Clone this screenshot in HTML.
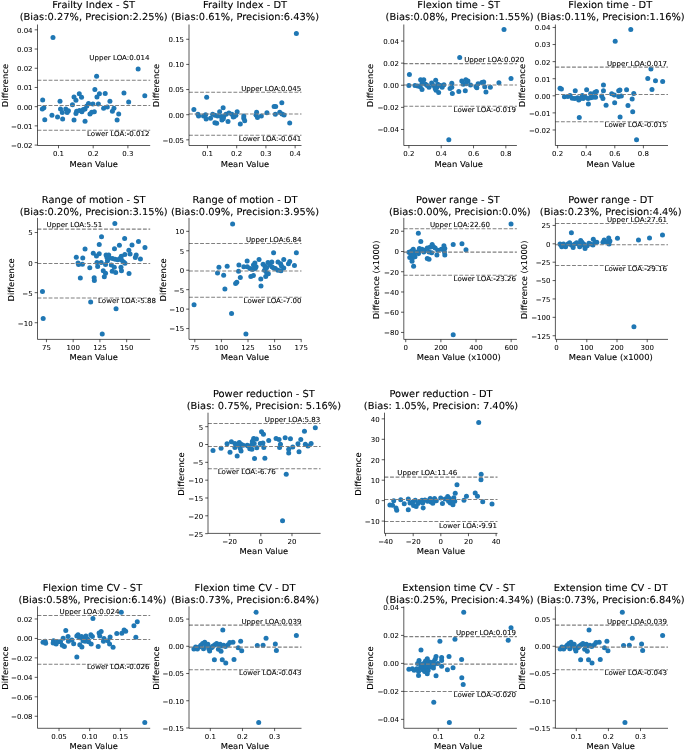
<!DOCTYPE html>
<html lang="en"><head><meta charset="utf-8"><title>Bland-Altman plots</title>
<style>
html,body{margin:0;padding:0;background:#fff}
body{width:685px;height:750px;overflow:hidden}
svg{display:block}
svg text{font-family:"DejaVu Sans","Liberation Sans",sans-serif;fill:#000;text-rendering:geometricPrecision;stroke:#000;stroke-width:0.1px}
.tt{font-size:9.65px;text-anchor:middle}
.lb{font-size:8.2px;text-anchor:middle}
.tk{font-size:6.85px;stroke-width:0.04px}
.an{font-size:6.9px;stroke-width:0.08px}
.sp{stroke:#000;stroke-width:0.65;fill:none}
.hl{stroke:#808080;stroke-width:1.05;stroke-dasharray:3.85 1.7;fill:none}
.pt circle{fill:#1f77b4}
</style></head><body>
<svg width="685" height="750" viewBox="0 0 685 750">
<rect width="685" height="750" fill="#fff"/>
<g id="p1">
<g class="pt"><circle cx="52.99" cy="37.42" r="2.5"/><circle cx="138.13" cy="69.12" r="2.5"/><circle cx="96.61" cy="76.13" r="2.5"/><circle cx="144.79" cy="95.75" r="2.5"/><circle cx="123.94" cy="92.95" r="2.5"/><circle cx="128.67" cy="102.06" r="2.5"/><circle cx="94.86" cy="89.45" r="2.5"/><circle cx="99.42" cy="93.82" r="2.5"/><circle cx="105.2" cy="93.47" r="2.5"/><circle cx="96.96" cy="96.98" r="2.5"/><circle cx="79.27" cy="93.82" r="2.5"/><circle cx="81.55" cy="97.33" r="2.5"/><circle cx="74.01" cy="96.98" r="2.5"/><circle cx="75.94" cy="100.31" r="2.5"/><circle cx="42.66" cy="99.96" r="2.5"/><circle cx="60" cy="101.18" r="2.5"/><circle cx="109.93" cy="101.36" r="2.5"/><circle cx="72.44" cy="104.86" r="2.5"/><circle cx="88.55" cy="103.46" r="2.5"/><circle cx="92.93" cy="103.99" r="2.5"/><circle cx="98.36" cy="103.99" r="2.5"/><circle cx="43.88" cy="107.84" r="2.5"/><circle cx="42.31" cy="108.89" r="2.5"/><circle cx="60.53" cy="109.07" r="2.5"/><circle cx="65.78" cy="109.07" r="2.5"/><circle cx="68.41" cy="110.82" r="2.5"/><circle cx="62.28" cy="112.57" r="2.5"/><circle cx="67.18" cy="112.57" r="2.5"/><circle cx="76.64" cy="111.34" r="2.5"/><circle cx="79.45" cy="110.47" r="2.5"/><circle cx="81.9" cy="111.69" r="2.5"/><circle cx="85.05" cy="109.07" r="2.5"/><circle cx="75.94" cy="113.45" r="2.5"/><circle cx="89.96" cy="113.97" r="2.5"/><circle cx="91.71" cy="112.22" r="2.5"/><circle cx="94.34" cy="111.69" r="2.5"/><circle cx="103.62" cy="108.19" r="2.5"/><circle cx="107.3" cy="106.96" r="2.5"/><circle cx="113.96" cy="108.19" r="2.5"/><circle cx="112.38" cy="111.34" r="2.5"/><circle cx="118.69" cy="113.97" r="2.5"/><circle cx="51.94" cy="115.2" r="2.5"/><circle cx="57.55" cy="117.12" r="2.5"/><circle cx="62.63" cy="118.88" r="2.5"/><circle cx="44.76" cy="119.75" r="2.5"/><circle cx="74.01" cy="120.1" r="2.5"/><circle cx="85.05" cy="121.15" r="2.5"/><circle cx="117.11" cy="120.1" r="2.5"/><circle cx="86.8" cy="106.09" r="2.5"/><circle cx="83.3" cy="109.59" r="2.5"/></g>
<path class="hl" d="M37.5 80.3H150.2"/><path class="hl" d="M37.5 105.4H150.2"/><path class="hl" d="M37.5 130.2H150.2"/>
<path class="sp" d="M37.5 24.5V145.5H150.2M37.5 29.84h-2.8M37.5 49.04h-2.8M37.5 68.25h-2.8M37.5 87.46h-2.8M37.5 106.66h-2.8M37.5 125.87h-2.8M37.5 145.08h-2.8M58.5 145.5v2.8M93.2 145.5v2.8M127.9 145.5v2.8"/>
<text class="tk" text-anchor="end" transform="translate(32.6 32.75) scale(1.025 1)">0.04</text><text class="tk" text-anchor="end" transform="translate(32.6 51.96) scale(1.025 1)">0.03</text><text class="tk" text-anchor="end" transform="translate(32.6 71.17) scale(1.025 1)">0.02</text><text class="tk" text-anchor="end" transform="translate(32.6 90.37) scale(1.025 1)">0.01</text><text class="tk" text-anchor="end" transform="translate(32.6 109.58) scale(1.025 1)">0.00</text><text class="tk" text-anchor="end" transform="translate(32.6 128.79) scale(1.025 1)">−0.01</text><text class="tk" text-anchor="end" transform="translate(32.6 147.99) scale(1.025 1)">−0.02</text>
<text class="tk" text-anchor="middle" transform="translate(58.5 156.37) scale(1.025 1)">0.1</text><text class="tk" text-anchor="middle" transform="translate(93.2 156.37) scale(1.025 1)">0.2</text><text class="tk" text-anchor="middle" transform="translate(127.9 156.37) scale(1.025 1)">0.3</text>
<text class="tt" transform="translate(93.7 8.27) scale(1.025 1)">Frailty Index - ST</text>
<text class="tt" transform="translate(93.7 20.07) scale(1.025 1)">(Bias:0.27%, Precision:2.25%)</text>
<text class="lb" transform="translate(93.7 166.55) scale(1.025 1)">Mean Value</text>
<text class="lb" transform="translate(7.55 85.5) rotate(-90) scale(1.025 1)">Difference</text>
<text class="an" text-anchor="end" transform="translate(149.4 59.98) scale(1.025 1)">Upper LOA:0.014</text>
<text class="an" text-anchor="end" transform="translate(149.4 135.88) scale(1.025 1)">Lower LOA:-0.012</text>
</g>
<g id="p2">
<g class="pt"><circle cx="296.36" cy="33.39" r="2.5"/><circle cx="206.67" cy="97.33" r="2.5"/><circle cx="281.82" cy="102.76" r="2.5"/><circle cx="274.12" cy="106.61" r="2.5"/><circle cx="275.69" cy="106.61" r="2.5"/><circle cx="223.14" cy="107.66" r="2.5"/><circle cx="193.88" cy="109.42" r="2.5"/><circle cx="219.64" cy="111.69" r="2.5"/><circle cx="237.15" cy="111.69" r="2.5"/><circle cx="256.6" cy="112.22" r="2.5"/><circle cx="266.93" cy="112.74" r="2.5"/><circle cx="279.72" cy="112.22" r="2.5"/><circle cx="197.91" cy="114.32" r="2.5"/><circle cx="198.61" cy="116.07" r="2.5"/><circle cx="203.52" cy="116.07" r="2.5"/><circle cx="205.62" cy="114.85" r="2.5"/><circle cx="212.63" cy="114.32" r="2.5"/><circle cx="214.91" cy="115.37" r="2.5"/><circle cx="217.53" cy="116.07" r="2.5"/><circle cx="221.04" cy="116.6" r="2.5"/><circle cx="223.66" cy="116.6" r="2.5"/><circle cx="225.94" cy="114.32" r="2.5"/><circle cx="228.92" cy="113.09" r="2.5"/><circle cx="231.9" cy="114.32" r="2.5"/><circle cx="234.18" cy="116.6" r="2.5"/><circle cx="235.93" cy="115.37" r="2.5"/><circle cx="243.81" cy="116.07" r="2.5"/><circle cx="256.07" cy="115.37" r="2.5"/><circle cx="257.47" cy="117.47" r="2.5"/><circle cx="261.33" cy="116.07" r="2.5"/><circle cx="275.34" cy="114.32" r="2.5"/><circle cx="282" cy="113.97" r="2.5"/><circle cx="284.1" cy="115.02" r="2.5"/><circle cx="206.15" cy="118.88" r="2.5"/><circle cx="210.53" cy="118.35" r="2.5"/><circle cx="221.91" cy="120.1" r="2.5"/><circle cx="228.04" cy="121.5" r="2.5"/><circle cx="244.69" cy="120.63" r="2.5"/><circle cx="243.81" cy="118.35" r="2.5"/><circle cx="214.91" cy="122.73" r="2.5"/><circle cx="216.66" cy="123.26" r="2.5"/><circle cx="240.31" cy="123.96" r="2.5"/><circle cx="289.71" cy="123.08" r="2.5"/><circle cx="223.31" cy="118.7" r="2.5"/><circle cx="233.3" cy="117.12" r="2.5"/></g>
<path class="hl" d="M189 92.2H301.5"/><path class="hl" d="M189 114H301.5"/><path class="hl" d="M189 135.3H301.5"/>
<path class="sp" d="M189 24.5V145.5H301.5M189 39.28h-2.8M189 64.42h-2.8M189 89.56h-2.8M189 114.7h-2.8M189 139.84h-2.8M207.47 145.5v2.8M236.69 145.5v2.8M265.91 145.5v2.8M295.13 145.5v2.8"/>
<text class="tk" text-anchor="end" transform="translate(184.1 42.2) scale(1.025 1)">0.15</text><text class="tk" text-anchor="end" transform="translate(184.1 67.34) scale(1.025 1)">0.10</text><text class="tk" text-anchor="end" transform="translate(184.1 92.48) scale(1.025 1)">0.05</text><text class="tk" text-anchor="end" transform="translate(184.1 117.62) scale(1.025 1)">0.00</text><text class="tk" text-anchor="end" transform="translate(184.1 142.76) scale(1.025 1)">−0.05</text>
<text class="tk" text-anchor="middle" transform="translate(207.47 156.37) scale(1.025 1)">0.1</text><text class="tk" text-anchor="middle" transform="translate(236.69 156.37) scale(1.025 1)">0.2</text><text class="tk" text-anchor="middle" transform="translate(265.91 156.37) scale(1.025 1)">0.3</text><text class="tk" text-anchor="middle" transform="translate(295.13 156.37) scale(1.025 1)">0.4</text>
<text class="tt" transform="translate(245 8.27) scale(1.025 1)">Frailty Index - DT</text>
<text class="tt" transform="translate(245 20.07) scale(1.025 1)">(Bias:0.61%, Precision:6.43%)</text>
<text class="lb" transform="translate(245 166.55) scale(1.025 1)">Mean Value</text>
<text class="lb" transform="translate(158.55 85.5) rotate(-90) scale(1.025 1)">Difference</text>
<text class="an" text-anchor="end" transform="translate(301.2 91.18) scale(1.025 1)">Upper LOA:0.045</text>
<text class="an" text-anchor="end" transform="translate(301.2 140.78) scale(1.025 1)">Lower LOA:-0.041</text>
</g>
<g id="p3">
<g class="pt"><circle cx="504.01" cy="29.53" r="2.5"/><circle cx="459.69" cy="57.39" r="2.5"/><circle cx="409.41" cy="74.38" r="2.5"/><circle cx="511.01" cy="78.58" r="2.5"/><circle cx="448.82" cy="139.72" r="2.5"/><circle cx="408.88" cy="85.42" r="2.5"/><circle cx="415.01" cy="85.42" r="2.5"/><circle cx="417.64" cy="85.94" r="2.5"/><circle cx="420.62" cy="79.81" r="2.5"/><circle cx="423.77" cy="79.81" r="2.5"/><circle cx="422.02" cy="83.31" r="2.5"/><circle cx="425.53" cy="84.19" r="2.5"/><circle cx="420.27" cy="86.82" r="2.5"/><circle cx="422.02" cy="89.45" r="2.5"/><circle cx="427.28" cy="85.42" r="2.5"/><circle cx="429.03" cy="87.17" r="2.5"/><circle cx="431.66" cy="82.96" r="2.5"/><circle cx="435.69" cy="80.34" r="2.5"/><circle cx="433.41" cy="85.42" r="2.5"/><circle cx="435.16" cy="88.57" r="2.5"/><circle cx="436.91" cy="87.17" r="2.5"/><circle cx="436.04" cy="90.32" r="2.5"/><circle cx="438.66" cy="92.42" r="2.5"/><circle cx="440.42" cy="85.42" r="2.5"/><circle cx="442.17" cy="87.17" r="2.5"/><circle cx="443.92" cy="84.72" r="2.5"/><circle cx="451.8" cy="83.31" r="2.5"/><circle cx="450.05" cy="88.57" r="2.5"/><circle cx="451.8" cy="87.17" r="2.5"/><circle cx="452.33" cy="93.47" r="2.5"/><circle cx="458.81" cy="91.55" r="2.5"/><circle cx="465.29" cy="90.85" r="2.5"/><circle cx="461.79" cy="81.04" r="2.5"/><circle cx="465.82" cy="79.81" r="2.5"/><circle cx="467.92" cy="81.04" r="2.5"/><circle cx="463.19" cy="84.19" r="2.5"/><circle cx="466.17" cy="83.84" r="2.5"/><circle cx="470.55" cy="85.07" r="2.5"/><circle cx="475.98" cy="86.47" r="2.5"/><circle cx="476.85" cy="87.69" r="2.5"/><circle cx="478.08" cy="83.84" r="2.5"/><circle cx="481.93" cy="82.44" r="2.5"/><circle cx="483.69" cy="81.91" r="2.5"/><circle cx="484.74" cy="86.82" r="2.5"/><circle cx="485.96" cy="92.07" r="2.5"/><circle cx="490.34" cy="87.17" r="2.5"/><circle cx="498.93" cy="82.79" r="2.5"/><circle cx="437.79" cy="84.19" r="2.5"/></g>
<path class="hl" d="M403.8 63.6H516.9"/><path class="hl" d="M403.8 84.9H516.9"/><path class="hl" d="M403.8 106.3H516.9"/>
<path class="sp" d="M403.8 24.5V145.5H516.9M403.8 41.04h-2.8M403.8 63.15h-2.8M403.8 85.26h-2.8M403.8 107.37h-2.8M403.8 129.48h-2.8M408.91 145.5v2.8M441.22 145.5v2.8M473.53 145.5v2.8M505.84 145.5v2.8"/>
<text class="tk" text-anchor="end" transform="translate(398.9 43.96) scale(1.025 1)">0.04</text><text class="tk" text-anchor="end" transform="translate(398.9 66.07) scale(1.025 1)">0.02</text><text class="tk" text-anchor="end" transform="translate(398.9 88.18) scale(1.025 1)">0.00</text><text class="tk" text-anchor="end" transform="translate(398.9 110.29) scale(1.025 1)">−0.02</text><text class="tk" text-anchor="end" transform="translate(398.9 132.4) scale(1.025 1)">−0.04</text>
<text class="tk" text-anchor="middle" transform="translate(408.91 156.37) scale(1.025 1)">0.2</text><text class="tk" text-anchor="middle" transform="translate(441.22 156.37) scale(1.025 1)">0.4</text><text class="tk" text-anchor="middle" transform="translate(473.53 156.37) scale(1.025 1)">0.6</text><text class="tk" text-anchor="middle" transform="translate(505.84 156.37) scale(1.025 1)">0.8</text>
<text class="tt" transform="translate(458.7 8.27) scale(1.025 1)">Flexion time - ST</text>
<text class="tt" transform="translate(459.6 20.07) scale(1.025 1)">(Bias:0.08%, Precision:1.55%)</text>
<text class="lb" transform="translate(458.7 166.55) scale(1.025 1)">Mean Value</text>
<text class="lb" transform="translate(373.35 85.5) rotate(-90) scale(1.025 1)">Difference</text>
<text class="an" text-anchor="end" transform="translate(524.2 62.48) scale(1.025 1)">Upper LOA:0.020</text>
<text class="an" text-anchor="end" transform="translate(516 112.18) scale(1.025 1)">Lower LOA:-0.019</text>
</g>
<g id="p4">
<g class="pt"><circle cx="630.78" cy="29.53" r="2.5"/><circle cx="615.19" cy="41.27" r="2.5"/><circle cx="650.93" cy="69.12" r="2.5"/><circle cx="647.77" cy="78.41" r="2.5"/><circle cx="655.48" cy="80.69" r="2.5"/><circle cx="662.66" cy="81.39" r="2.5"/><circle cx="651.98" cy="89.45" r="2.5"/><circle cx="603.45" cy="85.07" r="2.5"/><circle cx="603.45" cy="90.85" r="2.5"/><circle cx="560.01" cy="88.22" r="2.5"/><circle cx="561.41" cy="89.09" r="2.5"/><circle cx="575.25" cy="90.85" r="2.5"/><circle cx="586.64" cy="89.8" r="2.5"/><circle cx="596.45" cy="91.55" r="2.5"/><circle cx="594.69" cy="92.6" r="2.5"/><circle cx="590.66" cy="93.82" r="2.5"/><circle cx="618.69" cy="90.85" r="2.5"/><circle cx="619.92" cy="89.97" r="2.5"/><circle cx="626.58" cy="89.8" r="2.5"/><circle cx="633.76" cy="93.47" r="2.5"/><circle cx="611.69" cy="93.82" r="2.5"/><circle cx="614.31" cy="95.05" r="2.5"/><circle cx="564.39" cy="96.8" r="2.5"/><circle cx="567.89" cy="96.45" r="2.5"/><circle cx="569.99" cy="95.58" r="2.5"/><circle cx="572.27" cy="98.2" r="2.5"/><circle cx="574.9" cy="98.55" r="2.5"/><circle cx="577.53" cy="97.68" r="2.5"/><circle cx="578.75" cy="99.96" r="2.5"/><circle cx="580.15" cy="98.55" r="2.5"/><circle cx="582.26" cy="95.58" r="2.5"/><circle cx="583.13" cy="98.55" r="2.5"/><circle cx="585.41" cy="97.33" r="2.5"/><circle cx="588.04" cy="98.55" r="2.5"/><circle cx="590.66" cy="97.68" r="2.5"/><circle cx="592.94" cy="97.33" r="2.5"/><circle cx="595.57" cy="97.33" r="2.5"/><circle cx="601.7" cy="95.93" r="2.5"/><circle cx="602.93" cy="98.55" r="2.5"/><circle cx="618.69" cy="96.45" r="2.5"/><circle cx="621.32" cy="96.1" r="2.5"/><circle cx="632.18" cy="99.08" r="2.5"/><circle cx="588.39" cy="103.99" r="2.5"/><circle cx="606.08" cy="105.21" r="2.5"/><circle cx="614.66" cy="102.76" r="2.5"/><circle cx="627.98" cy="105.56" r="2.5"/><circle cx="632.71" cy="111.69" r="2.5"/><circle cx="579.28" cy="117.47" r="2.5"/><circle cx="620.09" cy="117.12" r="2.5"/><circle cx="636.56" cy="139.72" r="2.5"/></g>
<path class="hl" d="M555.4 67.1H668"/><path class="hl" d="M555.4 94.5H668"/><path class="hl" d="M555.4 121.8H668"/>
<path class="sp" d="M555.4 24.5V145.5H668M555.4 27.46h-2.8M555.4 44.54h-2.8M555.4 61.63h-2.8M555.4 78.71h-2.8M555.4 95.8h-2.8M555.4 112.89h-2.8M555.4 129.97h-2.8M557.6 145.5v2.8M586.2 145.5v2.8M614.8 145.5v2.8M643.4 145.5v2.8"/>
<text class="tk" text-anchor="end" transform="translate(550.5 30.37) scale(1.025 1)">0.04</text><text class="tk" text-anchor="end" transform="translate(550.5 47.46) scale(1.025 1)">0.03</text><text class="tk" text-anchor="end" transform="translate(550.5 64.54) scale(1.025 1)">0.02</text><text class="tk" text-anchor="end" transform="translate(550.5 81.63) scale(1.025 1)">0.01</text><text class="tk" text-anchor="end" transform="translate(550.5 98.72) scale(1.025 1)">0.00</text><text class="tk" text-anchor="end" transform="translate(550.5 115.8) scale(1.025 1)">−0.01</text><text class="tk" text-anchor="end" transform="translate(550.5 132.89) scale(1.025 1)">−0.02</text>
<text class="tk" text-anchor="middle" transform="translate(557.6 156.37) scale(1.025 1)">0.2</text><text class="tk" text-anchor="middle" transform="translate(586.2 156.37) scale(1.025 1)">0.4</text><text class="tk" text-anchor="middle" transform="translate(614.8 156.37) scale(1.025 1)">0.6</text><text class="tk" text-anchor="middle" transform="translate(643.4 156.37) scale(1.025 1)">0.8</text>
<text class="tt" transform="translate(610.2 8.27) scale(1.025 1)">Flexion time - DT</text>
<text class="tt" transform="translate(610.7 20.07) scale(1.025 1)">(Bias:0.11%, Precision:1.16%)</text>
<text class="lb" transform="translate(610.7 166.55) scale(1.025 1)">Mean Value</text>
<text class="lb" transform="translate(524.65 85.5) rotate(-90) scale(1.025 1)">Difference</text>
<text class="an" text-anchor="end" transform="translate(667 65.88) scale(1.025 1)">Upper LOA:0.017</text>
<text class="an" text-anchor="end" transform="translate(667 127.08) scale(1.025 1)">Lower LOA:-0.015</text>
</g>
<g id="p5">
<g class="pt"><circle cx="114.83" cy="223.53" r="2.5"/><circle cx="101.52" cy="236.67" r="2.5"/><circle cx="124.64" cy="238.42" r="2.5"/><circle cx="138.48" cy="241.58" r="2.5"/><circle cx="132" cy="245.08" r="2.5"/><circle cx="144.96" cy="247.53" r="2.5"/><circle cx="99.24" cy="244.55" r="2.5"/><circle cx="119.39" cy="245.26" r="2.5"/><circle cx="114.48" cy="248.76" r="2.5"/><circle cx="128.85" cy="250.16" r="2.5"/><circle cx="85.05" cy="249.11" r="2.5"/><circle cx="93.28" cy="253.31" r="2.5"/><circle cx="99.24" cy="253.84" r="2.5"/><circle cx="96.44" cy="255.94" r="2.5"/><circle cx="130.07" cy="254.01" r="2.5"/><circle cx="136.2" cy="254.89" r="2.5"/><circle cx="135.33" cy="257.52" r="2.5"/><circle cx="140.41" cy="259.09" r="2.5"/><circle cx="124.82" cy="254.54" r="2.5"/><circle cx="121.31" cy="256.29" r="2.5"/><circle cx="76.29" cy="257.17" r="2.5"/><circle cx="82.77" cy="258.04" r="2.5"/><circle cx="106.07" cy="255.07" r="2.5"/><circle cx="108.7" cy="254.89" r="2.5"/><circle cx="106.95" cy="257.52" r="2.5"/><circle cx="109.58" cy="258.04" r="2.5"/><circle cx="112.55" cy="258.57" r="2.5"/><circle cx="115.18" cy="259.27" r="2.5"/><circle cx="117.81" cy="259.8" r="2.5"/><circle cx="120.09" cy="258.57" r="2.5"/><circle cx="121.84" cy="260.32" r="2.5"/><circle cx="123.59" cy="261.9" r="2.5"/><circle cx="124.99" cy="263.3" r="2.5"/><circle cx="107.47" cy="260.67" r="2.5"/><circle cx="78.04" cy="262.95" r="2.5"/><circle cx="82.42" cy="264.18" r="2.5"/><circle cx="78.57" cy="264.53" r="2.5"/><circle cx="96.96" cy="262.42" r="2.5"/><circle cx="101.17" cy="262.42" r="2.5"/><circle cx="97.66" cy="266.45" r="2.5"/><circle cx="105.55" cy="264.53" r="2.5"/><circle cx="111.33" cy="265.05" r="2.5"/><circle cx="114.31" cy="267.15" r="2.5"/><circle cx="120.96" cy="267.15" r="2.5"/><circle cx="89.78" cy="267.68" r="2.5"/><circle cx="121.49" cy="270.66" r="2.5"/><circle cx="103.27" cy="270.83" r="2.5"/><circle cx="105.55" cy="273.28" r="2.5"/><circle cx="104.32" cy="276.79" r="2.5"/><circle cx="112.2" cy="271.18" r="2.5"/><circle cx="115.71" cy="272.41" r="2.5"/><circle cx="129.02" cy="273.46" r="2.5"/><circle cx="80.32" cy="278.01" r="2.5"/><circle cx="94.16" cy="277.84" r="2.5"/><circle cx="94.34" cy="280.47" r="2.5"/><circle cx="42.48" cy="291.5" r="2.5"/><circle cx="90.66" cy="302.01" r="2.5"/><circle cx="116.06" cy="308.85" r="2.5"/><circle cx="43.18" cy="318.48" r="2.5"/><circle cx="102.22" cy="333.9" r="2.5"/></g>
<path class="hl" d="M37.5 229.1H150.2"/><path class="hl" d="M37.5 263.5H150.2"/><path class="hl" d="M37.5 298H150.2"/>
<path class="sp" d="M37.5 217.9V339.4H150.2M37.5 232.52h-2.8M37.5 262.59h-2.8M37.5 292.66h-2.8M37.5 322.73h-2.8M46.44 339.4v2.8M73.18 339.4v2.8M99.92 339.4v2.8M126.66 339.4v2.8"/>
<text class="tk" text-anchor="end" transform="translate(32.6 235.44) scale(1.025 1)">5</text><text class="tk" text-anchor="end" transform="translate(32.6 265.51) scale(1.025 1)">0</text><text class="tk" text-anchor="end" transform="translate(32.6 295.58) scale(1.025 1)">−5</text><text class="tk" text-anchor="end" transform="translate(32.6 325.65) scale(1.025 1)">−10</text>
<text class="tk" text-anchor="middle" transform="translate(46.44 350.27) scale(1.025 1)">75</text><text class="tk" text-anchor="middle" transform="translate(73.18 350.27) scale(1.025 1)">100</text><text class="tk" text-anchor="middle" transform="translate(99.92 350.27) scale(1.025 1)">125</text><text class="tk" text-anchor="middle" transform="translate(126.66 350.27) scale(1.025 1)">150</text>
<text class="tt" transform="translate(93.7 202.72) scale(1.025 1)">Range of motion - ST</text>
<text class="tt" transform="translate(93.7 214.52) scale(1.025 1)">(Bias:0.20%, Precision:3.15%)</text>
<text class="lb" transform="translate(93.7 360.45) scale(1.025 1)">Mean Value</text>
<text class="lb" transform="translate(14.35 279.95) rotate(-90) scale(1.025 1)">Difference</text>
<text class="an" text-anchor="start" transform="translate(46.6 227.48) scale(1.025 1)">Upper LOA:5.51</text>
<text class="an" text-anchor="start" transform="translate(98 303.28) scale(1.025 1)">Lower LOA:-5.88</text>
</g>
<g id="p6">
<g class="pt"><circle cx="232.6" cy="223.88" r="2.5"/><circle cx="273.59" cy="252.79" r="2.5"/><circle cx="296.36" cy="252.79" r="2.5"/><circle cx="283.75" cy="259.45" r="2.5"/><circle cx="259.05" cy="259.45" r="2.5"/><circle cx="247.14" cy="261.02" r="2.5"/><circle cx="289.71" cy="261.55" r="2.5"/><circle cx="288.48" cy="263.82" r="2.5"/><circle cx="294.44" cy="265.58" r="2.5"/><circle cx="277.97" cy="262.07" r="2.5"/><circle cx="280.6" cy="263.82" r="2.5"/><circle cx="271.84" cy="262.07" r="2.5"/><circle cx="267.99" cy="262.42" r="2.5"/><circle cx="254.85" cy="262.95" r="2.5"/><circle cx="253.45" cy="265.05" r="2.5"/><circle cx="256.07" cy="266.8" r="2.5"/><circle cx="238.91" cy="265.05" r="2.5"/><circle cx="227.17" cy="266.28" r="2.5"/><circle cx="218.93" cy="267.15" r="2.5"/><circle cx="243.81" cy="266.8" r="2.5"/><circle cx="247.31" cy="266.8" r="2.5"/><circle cx="249.94" cy="268.55" r="2.5"/><circle cx="252.57" cy="269.43" r="2.5"/><circle cx="255.2" cy="268.55" r="2.5"/><circle cx="263.08" cy="264.18" r="2.5"/><circle cx="264.83" cy="265.93" r="2.5"/><circle cx="266.58" cy="267.68" r="2.5"/><circle cx="269.74" cy="265.05" r="2.5"/><circle cx="271.84" cy="266.8" r="2.5"/><circle cx="273.59" cy="268.03" r="2.5"/><circle cx="275.34" cy="268.55" r="2.5"/><circle cx="281.47" cy="265.93" r="2.5"/><circle cx="283.75" cy="268.03" r="2.5"/><circle cx="277.97" cy="270.31" r="2.5"/><circle cx="280.95" cy="270.66" r="2.5"/><circle cx="238.55" cy="271.18" r="2.5"/><circle cx="217.53" cy="273.11" r="2.5"/><circle cx="223.66" cy="275.21" r="2.5"/><circle cx="264.48" cy="270.31" r="2.5"/><circle cx="266.58" cy="272.41" r="2.5"/><circle cx="268.34" cy="273.81" r="2.5"/><circle cx="265.71" cy="276.44" r="2.5"/><circle cx="250.82" cy="276.44" r="2.5"/><circle cx="253.45" cy="275.56" r="2.5"/><circle cx="240.31" cy="277.49" r="2.5"/><circle cx="260.8" cy="278.89" r="2.5"/><circle cx="236.8" cy="282.22" r="2.5"/><circle cx="235.58" cy="283.45" r="2.5"/><circle cx="260.98" cy="286.07" r="2.5"/><circle cx="224.89" cy="288.88" r="2.5"/><circle cx="194.06" cy="304.82" r="2.5"/><circle cx="231.55" cy="313.4" r="2.5"/><circle cx="245.91" cy="333.9" r="2.5"/></g>
<path class="hl" d="M189 243.5H301.5"/><path class="hl" d="M189 270.9H301.5"/><path class="hl" d="M189 297.2H301.5"/>
<path class="sp" d="M189 217.9V339.4H301.5M189 231.33h-2.8M189 250.78h-2.8M189 270.23h-2.8M189 289.67h-2.8M189 309.12h-2.8M189 328.57h-2.8M194.8 339.4v2.8M221.4 339.4v2.8M248 339.4v2.8M274.6 339.4v2.8M301.2 339.4v2.8"/>
<text class="tk" text-anchor="end" transform="translate(184.1 234.24) scale(1.025 1)">10</text><text class="tk" text-anchor="end" transform="translate(184.1 253.69) scale(1.025 1)">5</text><text class="tk" text-anchor="end" transform="translate(184.1 273.14) scale(1.025 1)">0</text><text class="tk" text-anchor="end" transform="translate(184.1 292.59) scale(1.025 1)">−5</text><text class="tk" text-anchor="end" transform="translate(184.1 312.04) scale(1.025 1)">−10</text><text class="tk" text-anchor="end" transform="translate(184.1 331.49) scale(1.025 1)">−15</text>
<text class="tk" text-anchor="middle" transform="translate(194.8 350.27) scale(1.025 1)">75</text><text class="tk" text-anchor="middle" transform="translate(221.4 350.27) scale(1.025 1)">100</text><text class="tk" text-anchor="middle" transform="translate(248 350.27) scale(1.025 1)">125</text><text class="tk" text-anchor="middle" transform="translate(274.6 350.27) scale(1.025 1)">150</text><text class="tk" text-anchor="middle" transform="translate(301.2 350.27) scale(1.025 1)">175</text>
<text class="tt" transform="translate(245 202.72) scale(1.025 1)">Range of motion - DT</text>
<text class="tt" transform="translate(245 214.52) scale(1.025 1)">(Bias:0.09%, Precision:3.95%)</text>
<text class="lb" transform="translate(245 360.45) scale(1.025 1)">Mean Value</text>
<text class="lb" transform="translate(165.65 279.95) rotate(-90) scale(1.025 1)">Difference</text>
<text class="an" text-anchor="end" transform="translate(301.5 241.68) scale(1.025 1)">Upper LOA:6.84</text>
<text class="an" text-anchor="end" transform="translate(301.5 302.98) scale(1.025 1)">Lower LOA:-7.00</text>
</g>
<g id="p7">
<g class="pt"><circle cx="511.01" cy="223.88" r="2.5"/><circle cx="418.34" cy="233.17" r="2.5"/><circle cx="420.8" cy="241.4" r="2.5"/><circle cx="453.2" cy="244.55" r="2.5"/><circle cx="461.96" cy="243.68" r="2.5"/><circle cx="465.99" cy="249.64" r="2.5"/><circle cx="453.2" cy="334.77" r="2.5"/><circle cx="413.61" cy="266.28" r="2.5"/><circle cx="412.04" cy="261.2" r="2.5"/><circle cx="409.76" cy="257.52" r="2.5"/><circle cx="412.39" cy="258.04" r="2.5"/><circle cx="415.01" cy="256.64" r="2.5"/><circle cx="408.88" cy="252.26" r="2.5"/><circle cx="411.51" cy="251.04" r="2.5"/><circle cx="413.26" cy="249.28" r="2.5"/><circle cx="410.64" cy="253.66" r="2.5"/><circle cx="414.14" cy="253.31" r="2.5"/><circle cx="416.77" cy="251.91" r="2.5"/><circle cx="419.39" cy="248.41" r="2.5"/><circle cx="418.52" cy="253.66" r="2.5"/><circle cx="422.02" cy="249.28" r="2.5"/><circle cx="424.65" cy="250.16" r="2.5"/><circle cx="427.28" cy="248.06" r="2.5"/><circle cx="429.91" cy="247.18" r="2.5"/><circle cx="432.18" cy="244.55" r="2.5"/><circle cx="433.41" cy="246.66" r="2.5"/><circle cx="435.16" cy="248.06" r="2.5"/><circle cx="429.03" cy="251.91" r="2.5"/><circle cx="431.66" cy="252.79" r="2.5"/><circle cx="427.28" cy="258.57" r="2.5"/><circle cx="429.03" cy="259.27" r="2.5"/><circle cx="436.91" cy="254.89" r="2.5"/><circle cx="437.79" cy="250.16" r="2.5"/><circle cx="441.29" cy="249.28" r="2.5"/><circle cx="443.92" cy="245.78" r="2.5"/><circle cx="444.8" cy="248.41" r="2.5"/><circle cx="444.45" cy="251.91" r="2.5"/><circle cx="444.8" cy="254.89" r="2.5"/><circle cx="413.26" cy="255.42" r="2.5"/><circle cx="419.39" cy="251.04" r="2.5"/><circle cx="423.77" cy="251.91" r="2.5"/></g>
<path class="hl" d="M403.8 228.8H516.9"/><path class="hl" d="M403.8 252.1H516.9"/><path class="hl" d="M403.8 275.3H516.9"/>
<path class="sp" d="M403.8 217.9V339.4H516.9M403.8 231.26h-2.8M403.8 251.49h-2.8M403.8 271.73h-2.8M403.8 291.97h-2.8M403.8 312.21h-2.8M403.8 332.44h-2.8M405.74 339.4v2.8M440.88 339.4v2.8M476.02 339.4v2.8M511.16 339.4v2.8"/>
<text class="tk" text-anchor="end" transform="translate(398.9 234.17) scale(1.025 1)">20</text><text class="tk" text-anchor="end" transform="translate(398.9 254.41) scale(1.025 1)">0</text><text class="tk" text-anchor="end" transform="translate(398.9 274.65) scale(1.025 1)">−20</text><text class="tk" text-anchor="end" transform="translate(398.9 294.88) scale(1.025 1)">−40</text><text class="tk" text-anchor="end" transform="translate(398.9 315.12) scale(1.025 1)">−60</text><text class="tk" text-anchor="end" transform="translate(398.9 335.36) scale(1.025 1)">−80</text>
<text class="tk" text-anchor="middle" transform="translate(405.74 350.27) scale(1.025 1)">0</text><text class="tk" text-anchor="middle" transform="translate(440.88 350.27) scale(1.025 1)">200</text><text class="tk" text-anchor="middle" transform="translate(476.02 350.27) scale(1.025 1)">400</text><text class="tk" text-anchor="middle" transform="translate(511.16 350.27) scale(1.025 1)">600</text>
<text class="tt" transform="translate(458 202.72) scale(1.025 1)">Power range - ST</text>
<text class="tt" transform="translate(459.8 214.52) scale(1.025 1)">(Bias:0.00%, Precision:0.0%)</text>
<text class="lb" transform="translate(458.7 360.45) scale(1.025 1)">Mean Value (x1000)</text>
<text class="lb" transform="translate(378.85 279.95) rotate(-90) scale(1.025 1)">Difference (x1000)</text>
<text class="an" text-anchor="start" transform="translate(429.9 227.28) scale(1.025 1)">Upper LOA:22.60</text>
<text class="an" text-anchor="end" transform="translate(516 281.28) scale(1.025 1)">Lower LOA:-23.26</text>
</g>
<g id="p8">
<g class="pt"><circle cx="571.39" cy="232.64" r="2.5"/><circle cx="662.49" cy="234.92" r="2.5"/><circle cx="649.53" cy="237.9" r="2.5"/><circle cx="638.49" cy="240" r="2.5"/><circle cx="617.47" cy="238.25" r="2.5"/><circle cx="608.71" cy="237.9" r="2.5"/><circle cx="593.29" cy="239.3" r="2.5"/><circle cx="580.68" cy="240.53" r="2.5"/><circle cx="633.93" cy="326.72" r="2.5"/><circle cx="560.01" cy="244.03" r="2.5"/><circle cx="561.76" cy="246.66" r="2.5"/><circle cx="563.51" cy="244.03" r="2.5"/><circle cx="565.61" cy="246.66" r="2.5"/><circle cx="567.89" cy="244.03" r="2.5"/><circle cx="569.64" cy="242.8" r="2.5"/><circle cx="571.39" cy="244.91" r="2.5"/><circle cx="573.15" cy="247.53" r="2.5"/><circle cx="574.9" cy="244.03" r="2.5"/><circle cx="576.65" cy="242.8" r="2.5"/><circle cx="578.93" cy="244.03" r="2.5"/><circle cx="579.63" cy="246.66" r="2.5"/><circle cx="581.91" cy="242.28" r="2.5"/><circle cx="583.66" cy="244.03" r="2.5"/><circle cx="585.06" cy="248.41" r="2.5"/><circle cx="587.16" cy="245.78" r="2.5"/><circle cx="588.91" cy="243.15" r="2.5"/><circle cx="590.66" cy="244.03" r="2.5"/><circle cx="592.94" cy="244.91" r="2.5"/><circle cx="595.04" cy="242.28" r="2.5"/><circle cx="596.8" cy="242.28" r="2.5"/><circle cx="602.93" cy="242.28" r="2.5"/><circle cx="604.15" cy="240" r="2.5"/><circle cx="606.43" cy="241.75" r="2.5"/><circle cx="609.06" cy="244.03" r="2.5"/><circle cx="609.93" cy="241.05" r="2.5"/><circle cx="560.88" cy="244.91" r="2.5"/><circle cx="582.78" cy="244.91" r="2.5"/></g>
<path class="hl" d="M555.4 223.5H668"/><path class="hl" d="M555.4 244.8H668"/><path class="hl" d="M555.4 265.5H668"/>
<path class="sp" d="M555.4 217.9V339.4H668M555.4 225.43h-2.8M555.4 243.81h-2.8M555.4 262.19h-2.8M555.4 280.57h-2.8M555.4 298.95h-2.8M555.4 317.34h-2.8M555.4 335.72h-2.8M556.57 339.4v2.8M586.79 339.4v2.8M617.01 339.4v2.8M647.23 339.4v2.8"/>
<text class="tk" text-anchor="end" transform="translate(550.5 228.34) scale(1.025 1)">25</text><text class="tk" text-anchor="end" transform="translate(550.5 246.72) scale(1.025 1)">0</text><text class="tk" text-anchor="end" transform="translate(550.5 265.11) scale(1.025 1)">−25</text><text class="tk" text-anchor="end" transform="translate(550.5 283.49) scale(1.025 1)">−50</text><text class="tk" text-anchor="end" transform="translate(550.5 301.87) scale(1.025 1)">−75</text><text class="tk" text-anchor="end" transform="translate(550.5 320.25) scale(1.025 1)">−100</text><text class="tk" text-anchor="end" transform="translate(550.5 338.63) scale(1.025 1)">−125</text>
<text class="tk" text-anchor="middle" transform="translate(556.57 350.27) scale(1.025 1)">0</text><text class="tk" text-anchor="middle" transform="translate(586.79 350.27) scale(1.025 1)">100</text><text class="tk" text-anchor="middle" transform="translate(617.01 350.27) scale(1.025 1)">200</text><text class="tk" text-anchor="middle" transform="translate(647.23 350.27) scale(1.025 1)">300</text>
<text class="tt" transform="translate(610.7 202.72) scale(1.025 1)">Power range - DT</text>
<text class="tt" transform="translate(610.7 214.52) scale(1.025 1)">(Bias:0.23%, Precision:4.4%)</text>
<text class="lb" transform="translate(610.7 360.45) scale(1.025 1)">Mean Value (x1000)</text>
<text class="lb" transform="translate(526.65 279.95) rotate(-90) scale(1.025 1)">Difference (x1000)</text>
<text class="an" text-anchor="end" transform="translate(667 222.18) scale(1.025 1)">Upper LOA:27.61</text>
<text class="an" text-anchor="end" transform="translate(667 270.58) scale(1.025 1)">Lower LOA:-29.16</text>
</g>
<g id="p9">
<g class="pt"><circle cx="315.31" cy="427.64" r="2.5"/><circle cx="304.45" cy="431.15" r="2.5"/><circle cx="261.53" cy="431.67" r="2.5"/><circle cx="263.46" cy="434.3" r="2.5"/><circle cx="285.18" cy="437.63" r="2.5"/><circle cx="290.44" cy="438.68" r="2.5"/><circle cx="276.07" cy="438.5" r="2.5"/><circle cx="279.05" cy="439.38" r="2.5"/><circle cx="300.77" cy="439.55" r="2.5"/><circle cx="268.72" cy="440.43" r="2.5"/><circle cx="253.65" cy="438.5" r="2.5"/><circle cx="256.45" cy="439.03" r="2.5"/><circle cx="252.42" cy="441.13" r="2.5"/><circle cx="231.4" cy="441.66" r="2.5"/><circle cx="227.02" cy="443.76" r="2.5"/><circle cx="234.91" cy="443.41" r="2.5"/><circle cx="239.28" cy="442.53" r="2.5"/><circle cx="237.53" cy="445.16" r="2.5"/><circle cx="241.04" cy="444.28" r="2.5"/><circle cx="243.14" cy="445.16" r="2.5"/><circle cx="234.91" cy="447.44" r="2.5"/><circle cx="240.16" cy="448.14" r="2.5"/><circle cx="241.04" cy="450.94" r="2.5"/><circle cx="248.04" cy="446.04" r="2.5"/><circle cx="249.8" cy="448.66" r="2.5"/><circle cx="251.9" cy="449.19" r="2.5"/><circle cx="254.18" cy="443.41" r="2.5"/><circle cx="256.8" cy="447.79" r="2.5"/><circle cx="260.31" cy="443.41" r="2.5"/><circle cx="262.93" cy="442.88" r="2.5"/><circle cx="263.81" cy="447.44" r="2.5"/><circle cx="280.45" cy="444.28" r="2.5"/><circle cx="279.58" cy="447.44" r="2.5"/><circle cx="311.11" cy="443.41" r="2.5"/><circle cx="305.33" cy="444.28" r="2.5"/><circle cx="307.96" cy="446.04" r="2.5"/><circle cx="297.97" cy="443.76" r="2.5"/><circle cx="292.72" cy="446.91" r="2.5"/><circle cx="288.69" cy="449.19" r="2.5"/><circle cx="288.69" cy="453.04" r="2.5"/><circle cx="299.02" cy="451.82" r="2.5"/><circle cx="213.01" cy="450.59" r="2.5"/><circle cx="221.07" cy="448.14" r="2.5"/><circle cx="230" cy="452.17" r="2.5"/><circle cx="237.18" cy="456.02" r="2.5"/><circle cx="254.53" cy="458.47" r="2.5"/><circle cx="264.86" cy="458.3" r="2.5"/><circle cx="286.23" cy="474.24" r="2.5"/><circle cx="282.55" cy="520.84" r="2.5"/><circle cx="247.17" cy="445.16" r="2.5"/><circle cx="251.9" cy="444.28" r="2.5"/></g>
<path class="hl" d="M208 423.4H320.6"/><path class="hl" d="M208 446.4H320.6"/><path class="hl" d="M208 468.7H320.6"/>
<path class="sp" d="M208 412.7V533.4H320.6M208 426.67h-2.8M208 444.5h-2.8M208 462.33h-2.8M208 480.16h-2.8M208 497.99h-2.8M208 515.81h-2.8M208 533.64h-2.8M229.68 533.4v2.8M260.83 533.4v2.8M291.98 533.4v2.8"/>
<text class="tk" text-anchor="end" transform="translate(203.1 429.59) scale(1.025 1)">5</text><text class="tk" text-anchor="end" transform="translate(203.1 447.42) scale(1.025 1)">0</text><text class="tk" text-anchor="end" transform="translate(203.1 465.24) scale(1.025 1)">−5</text><text class="tk" text-anchor="end" transform="translate(203.1 483.07) scale(1.025 1)">−10</text><text class="tk" text-anchor="end" transform="translate(203.1 500.9) scale(1.025 1)">−15</text><text class="tk" text-anchor="end" transform="translate(203.1 518.73) scale(1.025 1)">−20</text><text class="tk" text-anchor="end" transform="translate(203.1 536.56) scale(1.025 1)">−25</text>
<text class="tk" text-anchor="middle" transform="translate(229.68 544.27) scale(1.025 1)">−20</text><text class="tk" text-anchor="middle" transform="translate(260.83 544.27) scale(1.025 1)">0</text><text class="tk" text-anchor="middle" transform="translate(291.98 544.27) scale(1.025 1)">20</text>
<text class="tt" transform="translate(263.9 396.77) scale(1.025 1)">Power reduction - ST</text>
<text class="tt" transform="translate(263.9 408.57) scale(1.025 1)">(Bias: 0.75%, Precision: 5.16%)</text>
<text class="lb" transform="translate(263.9 554.45) scale(1.025 1)">Mean Value</text>
<text class="lb" transform="translate(184.45 474) rotate(-90) scale(1.025 1)">Difference</text>
<text class="an" text-anchor="end" transform="translate(320.3 422.08) scale(1.025 1)">Upper LOA:5.83</text>
<text class="an" text-anchor="start" transform="translate(217.8 473.78) scale(1.025 1)">Lower LOA:-6.76</text>
</g>
<g id="p10">
<g class="pt"><circle cx="478.7" cy="422.39" r="2.5"/><circle cx="481.15" cy="474.24" r="2.5"/><circle cx="480.98" cy="479.85" r="2.5"/><circle cx="456.98" cy="484.75" r="2.5"/><circle cx="455.23" cy="493.34" r="2.5"/><circle cx="475.2" cy="492.99" r="2.5"/><circle cx="477.47" cy="496.31" r="2.5"/><circle cx="466.44" cy="496.14" r="2.5"/><circle cx="463.99" cy="500.34" r="2.5"/><circle cx="482.73" cy="501.74" r="2.5"/><circle cx="492.01" cy="504.02" r="2.5"/><circle cx="389.88" cy="504.9" r="2.5"/><circle cx="392.51" cy="505.25" r="2.5"/><circle cx="393.74" cy="500.87" r="2.5"/><circle cx="396.01" cy="507.88" r="2.5"/><circle cx="396.72" cy="510.15" r="2.5"/><circle cx="400.74" cy="499.82" r="2.5"/><circle cx="404.25" cy="503.85" r="2.5"/><circle cx="408.28" cy="499.12" r="2.5"/><circle cx="410.03" cy="502.97" r="2.5"/><circle cx="408.28" cy="509.63" r="2.5"/><circle cx="412.66" cy="502.09" r="2.5"/><circle cx="413.53" cy="505.6" r="2.5"/><circle cx="415.28" cy="500.34" r="2.5"/><circle cx="416.16" cy="506.47" r="2.5"/><circle cx="417.91" cy="503.5" r="2.5"/><circle cx="419.66" cy="501.74" r="2.5"/><circle cx="421.94" cy="500.34" r="2.5"/><circle cx="423.17" cy="507.88" r="2.5"/><circle cx="422.64" cy="502.97" r="2.5"/><circle cx="424.92" cy="499.99" r="2.5"/><circle cx="427.55" cy="501.22" r="2.5"/><circle cx="430.18" cy="498.59" r="2.5"/><circle cx="431.05" cy="502.09" r="2.5"/><circle cx="432.8" cy="503.32" r="2.5"/><circle cx="434.55" cy="498.59" r="2.5"/><circle cx="436.31" cy="500.87" r="2.5"/><circle cx="440.69" cy="498.07" r="2.5"/><circle cx="442.44" cy="503.5" r="2.5"/><circle cx="445.07" cy="499.12" r="2.5"/><circle cx="447.69" cy="496.49" r="2.5"/><circle cx="448.57" cy="501.22" r="2.5"/><circle cx="450.32" cy="502.97" r="2.5"/><circle cx="452.07" cy="500.34" r="2.5"/><circle cx="452.95" cy="504.72" r="2.5"/><circle cx="453.82" cy="497.72" r="2.5"/><circle cx="454.7" cy="501.22" r="2.5"/><circle cx="429.3" cy="500.34" r="2.5"/><circle cx="433.68" cy="500.87" r="2.5"/><circle cx="449.45" cy="498.59" r="2.5"/></g>
<path class="hl" d="M384.5 477.1H497.5"/><path class="hl" d="M384.5 499.4H497.5"/><path class="hl" d="M384.5 521.4H497.5"/>
<path class="sp" d="M384.5 412.7V533.4H497.5M384.5 418.85h-2.8M384.5 439.3h-2.8M384.5 459.74h-2.8M384.5 480.19h-2.8M384.5 500.64h-2.8M384.5 521.08h-2.8M385.56 533.4v2.8M413.2 533.4v2.8M440.84 533.4v2.8M468.48 533.4v2.8M496.12 533.4v2.8"/>
<text class="tk" text-anchor="end" transform="translate(379.6 421.77) scale(1.025 1)">40</text><text class="tk" text-anchor="end" transform="translate(379.6 442.21) scale(1.025 1)">30</text><text class="tk" text-anchor="end" transform="translate(379.6 462.66) scale(1.025 1)">20</text><text class="tk" text-anchor="end" transform="translate(379.6 483.11) scale(1.025 1)">10</text><text class="tk" text-anchor="end" transform="translate(379.6 503.55) scale(1.025 1)">0</text><text class="tk" text-anchor="end" transform="translate(379.6 524) scale(1.025 1)">−10</text>
<text class="tk" text-anchor="middle" transform="translate(385.56 544.27) scale(1.025 1)">−40</text><text class="tk" text-anchor="middle" transform="translate(413.2 544.27) scale(1.025 1)">−20</text><text class="tk" text-anchor="middle" transform="translate(440.84 544.27) scale(1.025 1)">0</text><text class="tk" text-anchor="middle" transform="translate(468.48 544.27) scale(1.025 1)">20</text><text class="tk" text-anchor="middle" transform="translate(496.12 544.27) scale(1.025 1)">40</text>
<text class="tt" transform="translate(441 396.77) scale(1.025 1)">Power reduction - DT</text>
<text class="tt" transform="translate(441 408.57) scale(1.025 1)">(Bias: 1.05%, Precision: 7.40%)</text>
<text class="lb" transform="translate(441 554.45) scale(1.025 1)">Mean Value</text>
<text class="lb" transform="translate(360.95 474) rotate(-90) scale(1.025 1)">Difference</text>
<text class="an" text-anchor="start" transform="translate(397.3 475.48) scale(1.025 1)">Upper LOA:11.46</text>
<text class="an" text-anchor="end" transform="translate(497 528.48) scale(1.025 1)">Lower LOA:-9.91</text>
</g>
<g id="p11">
<g class="pt"><circle cx="121.31" cy="612.23" r="2.5"/><circle cx="92.93" cy="618.54" r="2.5"/><circle cx="137.26" cy="621.87" r="2.5"/><circle cx="133.93" cy="625.72" r="2.5"/><circle cx="65.78" cy="630.45" r="2.5"/><circle cx="124.12" cy="629.93" r="2.5"/><circle cx="125.69" cy="631.15" r="2.5"/><circle cx="121.84" cy="633.26" r="2.5"/><circle cx="116.76" cy="633.43" r="2.5"/><circle cx="101.17" cy="631.5" r="2.5"/><circle cx="99.07" cy="632.91" r="2.5"/><circle cx="99.77" cy="636.06" r="2.5"/><circle cx="135.85" cy="637.28" r="2.5"/><circle cx="110.1" cy="636.93" r="2.5"/><circle cx="90.83" cy="634.66" r="2.5"/><circle cx="92.41" cy="636.41" r="2.5"/><circle cx="78.04" cy="634.66" r="2.5"/><circle cx="76.82" cy="636.06" r="2.5"/><circle cx="79.45" cy="637.81" r="2.5"/><circle cx="81.55" cy="636.41" r="2.5"/><circle cx="83.65" cy="638.16" r="2.5"/><circle cx="85.93" cy="636.06" r="2.5"/><circle cx="87.68" cy="639.04" r="2.5"/><circle cx="68.06" cy="636.41" r="2.5"/><circle cx="63.15" cy="638.16" r="2.5"/><circle cx="68.41" cy="641.31" r="2.5"/><circle cx="71.91" cy="639.91" r="2.5"/><circle cx="73.66" cy="643.77" r="2.5"/><circle cx="53.52" cy="640.79" r="2.5"/><circle cx="53.17" cy="642.89" r="2.5"/><circle cx="56.15" cy="643.94" r="2.5"/><circle cx="57.9" cy="641.66" r="2.5"/><circle cx="60.53" cy="641.66" r="2.5"/><circle cx="62.28" cy="645.17" r="2.5"/><circle cx="64.38" cy="646.57" r="2.5"/><circle cx="43.01" cy="642.19" r="2.5"/><circle cx="45.11" cy="641.31" r="2.5"/><circle cx="45.64" cy="643.24" r="2.5"/><circle cx="79.8" cy="644.64" r="2.5"/><circle cx="81.9" cy="646.92" r="2.5"/><circle cx="85.05" cy="641.31" r="2.5"/><circle cx="91.18" cy="643.94" r="2.5"/><circle cx="98.19" cy="646.57" r="2.5"/><circle cx="103.45" cy="641.31" r="2.5"/><circle cx="103.97" cy="638.51" r="2.5"/><circle cx="107.82" cy="640.79" r="2.5"/><circle cx="109.58" cy="643.94" r="2.5"/><circle cx="113.08" cy="647.27" r="2.5"/><circle cx="76.82" cy="656.91" r="2.5"/><circle cx="144.79" cy="722.42" r="2.5"/><circle cx="82.95" cy="640.79" r="2.5"/><circle cx="88.55" cy="641.66" r="2.5"/></g>
<path class="hl" d="M37.5 615.5H150.2"/><path class="hl" d="M37.5 639.5H150.2"/><path class="hl" d="M37.5 664.2H150.2"/>
<path class="sp" d="M37.5 606.4V728.3H150.2M37.5 618.98h-2.8M37.5 638.44h-2.8M37.5 657.89h-2.8M37.5 677.34h-2.8M37.5 696.8h-2.8M37.5 716.25h-2.8M59.02 728.3v2.8M89.67 728.3v2.8M120.32 728.3v2.8"/>
<text class="tk" text-anchor="end" transform="translate(32.6 621.9) scale(1.025 1)">0.02</text><text class="tk" text-anchor="end" transform="translate(32.6 641.35) scale(1.025 1)">0.00</text><text class="tk" text-anchor="end" transform="translate(32.6 660.81) scale(1.025 1)">−0.02</text><text class="tk" text-anchor="end" transform="translate(32.6 680.26) scale(1.025 1)">−0.04</text><text class="tk" text-anchor="end" transform="translate(32.6 699.71) scale(1.025 1)">−0.06</text><text class="tk" text-anchor="end" transform="translate(32.6 719.17) scale(1.025 1)">−0.08</text>
<text class="tk" text-anchor="middle" transform="translate(59.02 739.17) scale(1.025 1)">0.05</text><text class="tk" text-anchor="middle" transform="translate(89.67 739.17) scale(1.025 1)">0.10</text><text class="tk" text-anchor="middle" transform="translate(120.32 739.17) scale(1.025 1)">0.15</text>
<text class="tt" transform="translate(92.4 590.82) scale(1.025 1)">Flexion time CV - ST</text>
<text class="tt" transform="translate(92.4 602.62) scale(1.025 1)">(Bias:0.58%, Precision:6.14%)</text>
<text class="lb" transform="translate(93.7 749.35) scale(1.025 1)">Mean Value</text>
<text class="lb" transform="translate(7.55 668.05) rotate(-90) scale(1.025 1)">Difference</text>
<text class="an" text-anchor="start" transform="translate(59.5 613.88) scale(1.025 1)">Upper LOA:0.024</text>
<text class="an" text-anchor="end" transform="translate(149.4 668.98) scale(1.025 1)">Lower LOA:-0.026</text>
</g>
<g id="p12">
<g class="pt"><circle cx="256.07" cy="612.23" r="2.5"/><circle cx="222.79" cy="629.93" r="2.5"/><circle cx="296.36" cy="635.53" r="2.5"/><circle cx="266.06" cy="638.16" r="2.5"/><circle cx="240.66" cy="641.14" r="2.5"/><circle cx="275.34" cy="643.94" r="2.5"/><circle cx="257.3" cy="645.52" r="2.5"/><circle cx="263.08" cy="645.17" r="2.5"/><circle cx="276.39" cy="650.42" r="2.5"/><circle cx="241.71" cy="650.77" r="2.5"/><circle cx="238.2" cy="647.8" r="2.5"/><circle cx="214.38" cy="659.71" r="2.5"/><circle cx="222.26" cy="659.71" r="2.5"/><circle cx="225.77" cy="663.04" r="2.5"/><circle cx="234" cy="659.53" r="2.5"/><circle cx="258.7" cy="722.42" r="2.5"/><circle cx="193.88" cy="649.02" r="2.5"/><circle cx="195.64" cy="646.92" r="2.5"/><circle cx="197.39" cy="649.02" r="2.5"/><circle cx="199.14" cy="646.92" r="2.5"/><circle cx="200.89" cy="645.17" r="2.5"/><circle cx="202.64" cy="643.42" r="2.5"/><circle cx="204.74" cy="642.19" r="2.5"/><circle cx="203.52" cy="648.67" r="2.5"/><circle cx="206.15" cy="646.04" r="2.5"/><circle cx="207.9" cy="644.29" r="2.5"/><circle cx="209.65" cy="650.95" r="2.5"/><circle cx="208.77" cy="648.67" r="2.5"/><circle cx="211.4" cy="647.8" r="2.5"/><circle cx="213.15" cy="646.04" r="2.5"/><circle cx="214.91" cy="644.64" r="2.5"/><circle cx="216.66" cy="643.42" r="2.5"/><circle cx="218.41" cy="649.2" r="2.5"/><circle cx="219.28" cy="645.17" r="2.5"/><circle cx="221.04" cy="651.3" r="2.5"/><circle cx="221.91" cy="646.04" r="2.5"/><circle cx="223.66" cy="645.17" r="2.5"/><circle cx="225.42" cy="646.57" r="2.5"/><circle cx="228.04" cy="644.64" r="2.5"/><circle cx="229.8" cy="642.54" r="2.5"/><circle cx="232.95" cy="642.19" r="2.5"/><circle cx="220.16" cy="644.29" r="2.5"/><circle cx="212.28" cy="646.92" r="2.5"/></g>
<path class="hl" d="M189 625.1H301.5"/><path class="hl" d="M189 647.1H301.5"/><path class="hl" d="M189 669.7H301.5"/>
<path class="sp" d="M189 606.4V728.3H301.5M189 619.08h-2.8M189 646.3h-2.8M189 673.52h-2.8M189 700.74h-2.8M189 727.96h-2.8M210.32 728.3v2.8M242.47 728.3v2.8M274.62 728.3v2.8"/>
<text class="tk" text-anchor="end" transform="translate(184.1 622) scale(1.025 1)">0.05</text><text class="tk" text-anchor="end" transform="translate(184.1 649.22) scale(1.025 1)">0.00</text><text class="tk" text-anchor="end" transform="translate(184.1 676.44) scale(1.025 1)">−0.05</text><text class="tk" text-anchor="end" transform="translate(184.1 703.66) scale(1.025 1)">−0.10</text><text class="tk" text-anchor="end" transform="translate(184.1 730.88) scale(1.025 1)">−0.15</text>
<text class="tk" text-anchor="middle" transform="translate(210.32 739.17) scale(1.025 1)">0.1</text><text class="tk" text-anchor="middle" transform="translate(242.47 739.17) scale(1.025 1)">0.2</text><text class="tk" text-anchor="middle" transform="translate(274.62 739.17) scale(1.025 1)">0.3</text>
<text class="tt" transform="translate(245 590.82) scale(1.025 1)">Flexion time CV - DT</text>
<text class="tt" transform="translate(245 602.62) scale(1.025 1)">(Bias:0.73%, Precision:6.84%)</text>
<text class="lb" transform="translate(245 749.35) scale(1.025 1)">Mean Value</text>
<text class="lb" transform="translate(158.55 668.05) rotate(-90) scale(1.025 1)">Difference</text>
<text class="an" text-anchor="end" transform="translate(301.5 623.98) scale(1.025 1)">Upper LOA:0.039</text>
<text class="an" text-anchor="end" transform="translate(301.5 674.68) scale(1.025 1)">Lower LOA:-0.043</text>
</g>
<g id="p13">
<g class="pt"><circle cx="463.72" cy="612.23" r="2.5"/><circle cx="511.01" cy="627.82" r="2.5"/><circle cx="508.21" cy="640.26" r="2.5"/><circle cx="454.96" cy="639.21" r="2.5"/><circle cx="439.89" cy="641.14" r="2.5"/><circle cx="420.97" cy="650.07" r="2.5"/><circle cx="449" cy="656.38" r="2.5"/><circle cx="461.61" cy="659.53" r="2.5"/><circle cx="436.04" cy="656.55" r="2.5"/><circle cx="441.64" cy="657.43" r="2.5"/><circle cx="441.64" cy="660.41" r="2.5"/><circle cx="435.16" cy="659.18" r="2.5"/><circle cx="433.41" cy="661.81" r="2.5"/><circle cx="427.28" cy="658.83" r="2.5"/><circle cx="425.53" cy="660.93" r="2.5"/><circle cx="429.03" cy="661.81" r="2.5"/><circle cx="419.04" cy="660.41" r="2.5"/><circle cx="417.64" cy="663.56" r="2.5"/><circle cx="421.15" cy="664.44" r="2.5"/><circle cx="423.77" cy="663.56" r="2.5"/><circle cx="427.28" cy="664.44" r="2.5"/><circle cx="430.78" cy="664.44" r="2.5"/><circle cx="434.28" cy="664.44" r="2.5"/><circle cx="437.79" cy="663.56" r="2.5"/><circle cx="441.64" cy="666.19" r="2.5"/><circle cx="408.88" cy="669.34" r="2.5"/><circle cx="412.39" cy="668.82" r="2.5"/><circle cx="414.14" cy="670.22" r="2.5"/><circle cx="416.77" cy="668.82" r="2.5"/><circle cx="418.52" cy="671.45" r="2.5"/><circle cx="420.27" cy="667.94" r="2.5"/><circle cx="422.9" cy="669.69" r="2.5"/><circle cx="424.65" cy="671.45" r="2.5"/><circle cx="426.4" cy="667.94" r="2.5"/><circle cx="428.15" cy="670.57" r="2.5"/><circle cx="427.28" cy="673.72" r="2.5"/><circle cx="429.91" cy="667.07" r="2.5"/><circle cx="433.41" cy="667.94" r="2.5"/><circle cx="418.52" cy="675.47" r="2.5"/><circle cx="436.04" cy="675.82" r="2.5"/><circle cx="447.42" cy="669.69" r="2.5"/><circle cx="453.03" cy="667.77" r="2.5"/><circle cx="461.79" cy="677.75" r="2.5"/><circle cx="463.19" cy="684.58" r="2.5"/><circle cx="433.76" cy="702.28" r="2.5"/><circle cx="449.35" cy="722.42" r="2.5"/><circle cx="422.02" cy="666.19" r="2.5"/><circle cx="431.66" cy="662.69" r="2.5"/><circle cx="425.53" cy="666.19" r="2.5"/></g>
<path class="hl" d="M403.8 636.6H516.9"/><path class="hl" d="M403.8 664.1H516.9"/><path class="hl" d="M403.8 691.5H516.9"/>
<path class="sp" d="M403.8 606.4V728.3H516.9M403.8 607.44h-2.8M403.8 635.42h-2.8M403.8 663.4h-2.8M403.8 691.38h-2.8M403.8 719.36h-2.8M438.2 728.3v2.8M479.5 728.3v2.8"/>
<text class="tk" text-anchor="end" transform="translate(398.9 610.36) scale(1.025 1)">0.04</text><text class="tk" text-anchor="end" transform="translate(398.9 638.34) scale(1.025 1)">0.02</text><text class="tk" text-anchor="end" transform="translate(398.9 666.32) scale(1.025 1)">0.00</text><text class="tk" text-anchor="end" transform="translate(398.9 694.3) scale(1.025 1)">−0.02</text><text class="tk" text-anchor="end" transform="translate(398.9 722.28) scale(1.025 1)">−0.04</text>
<text class="tk" text-anchor="middle" transform="translate(438.2 739.17) scale(1.025 1)">0.1</text><text class="tk" text-anchor="middle" transform="translate(479.5 739.17) scale(1.025 1)">0.2</text>
<text class="tt" transform="translate(458.6 590.82) scale(1.025 1)">Extension time CV - ST</text>
<text class="tt" transform="translate(459.6 602.62) scale(1.025 1)">(Bias:0.25%, Precision:4.34%)</text>
<text class="lb" transform="translate(458.2 749.35) scale(1.025 1)">Mean Value</text>
<text class="lb" transform="translate(373.35 668.05) rotate(-90) scale(1.025 1)">Difference</text>
<text class="an" text-anchor="end" transform="translate(516 635.38) scale(1.025 1)">Upper LOA:0.019</text>
<text class="an" text-anchor="end" transform="translate(516 696.98) scale(1.025 1)">Lower LOA:-0.020</text>
</g>
<g id="p14">
<g class="pt"><circle cx="622.32" cy="612.23" r="2.5"/><circle cx="589.04" cy="629.93" r="2.5"/><circle cx="662.61" cy="635.53" r="2.5"/><circle cx="632.31" cy="638.16" r="2.5"/><circle cx="606.91" cy="641.14" r="2.5"/><circle cx="641.59" cy="643.94" r="2.5"/><circle cx="623.55" cy="645.52" r="2.5"/><circle cx="629.33" cy="645.17" r="2.5"/><circle cx="642.64" cy="650.42" r="2.5"/><circle cx="607.96" cy="650.77" r="2.5"/><circle cx="604.45" cy="647.8" r="2.5"/><circle cx="580.63" cy="659.71" r="2.5"/><circle cx="588.51" cy="659.71" r="2.5"/><circle cx="592.02" cy="663.04" r="2.5"/><circle cx="600.25" cy="659.53" r="2.5"/><circle cx="624.95" cy="722.42" r="2.5"/><circle cx="560.13" cy="649.02" r="2.5"/><circle cx="561.89" cy="646.92" r="2.5"/><circle cx="563.64" cy="649.02" r="2.5"/><circle cx="565.39" cy="646.92" r="2.5"/><circle cx="567.14" cy="645.17" r="2.5"/><circle cx="568.89" cy="643.42" r="2.5"/><circle cx="570.99" cy="642.19" r="2.5"/><circle cx="569.77" cy="648.67" r="2.5"/><circle cx="572.4" cy="646.04" r="2.5"/><circle cx="574.15" cy="644.29" r="2.5"/><circle cx="575.9" cy="650.95" r="2.5"/><circle cx="575.02" cy="648.67" r="2.5"/><circle cx="577.65" cy="647.8" r="2.5"/><circle cx="579.4" cy="646.04" r="2.5"/><circle cx="581.16" cy="644.64" r="2.5"/><circle cx="582.91" cy="643.42" r="2.5"/><circle cx="584.66" cy="649.2" r="2.5"/><circle cx="585.53" cy="645.17" r="2.5"/><circle cx="587.29" cy="651.3" r="2.5"/><circle cx="588.16" cy="646.04" r="2.5"/><circle cx="589.91" cy="645.17" r="2.5"/><circle cx="591.67" cy="646.57" r="2.5"/><circle cx="594.29" cy="644.64" r="2.5"/><circle cx="596.05" cy="642.54" r="2.5"/><circle cx="599.2" cy="642.19" r="2.5"/><circle cx="586.41" cy="644.29" r="2.5"/><circle cx="578.53" cy="646.92" r="2.5"/></g>
<path class="hl" d="M555.4 625.1H668"/><path class="hl" d="M555.4 647.1H668"/><path class="hl" d="M555.4 669.7H668"/>
<path class="sp" d="M555.4 606.4V728.3H668M555.4 619.08h-2.8M555.4 646.3h-2.8M555.4 673.52h-2.8M555.4 700.74h-2.8M555.4 727.96h-2.8M576.3 728.3v2.8M608.4 728.3v2.8M640.5 728.3v2.8"/>
<text class="tk" text-anchor="end" transform="translate(550.5 622) scale(1.025 1)">0.05</text><text class="tk" text-anchor="end" transform="translate(550.5 649.22) scale(1.025 1)">0.00</text><text class="tk" text-anchor="end" transform="translate(550.5 676.44) scale(1.025 1)">−0.05</text><text class="tk" text-anchor="end" transform="translate(550.5 703.66) scale(1.025 1)">−0.10</text><text class="tk" text-anchor="end" transform="translate(550.5 730.88) scale(1.025 1)">−0.15</text>
<text class="tk" text-anchor="middle" transform="translate(576.3 739.17) scale(1.025 1)">0.1</text><text class="tk" text-anchor="middle" transform="translate(608.4 739.17) scale(1.025 1)">0.2</text><text class="tk" text-anchor="middle" transform="translate(640.5 739.17) scale(1.025 1)">0.3</text>
<text class="tt" transform="translate(610.7 590.82) scale(1.025 1)">Extension time CV - DT</text>
<text class="tt" transform="translate(610.7 602.62) scale(1.025 1)">(Bias:0.73%, Precision:6.84%)</text>
<text class="lb" transform="translate(610.7 749.35) scale(1.025 1)">Mean Value</text>
<text class="lb" transform="translate(524.65 668.05) rotate(-90) scale(1.025 1)">Difference</text>
<text class="an" text-anchor="end" transform="translate(667 623.98) scale(1.025 1)">Upper LOA:0.039</text>
<text class="an" text-anchor="end" transform="translate(667 674.68) scale(1.025 1)">Lower LOA:-0.043</text>
</g>
</svg>
</body></html>
